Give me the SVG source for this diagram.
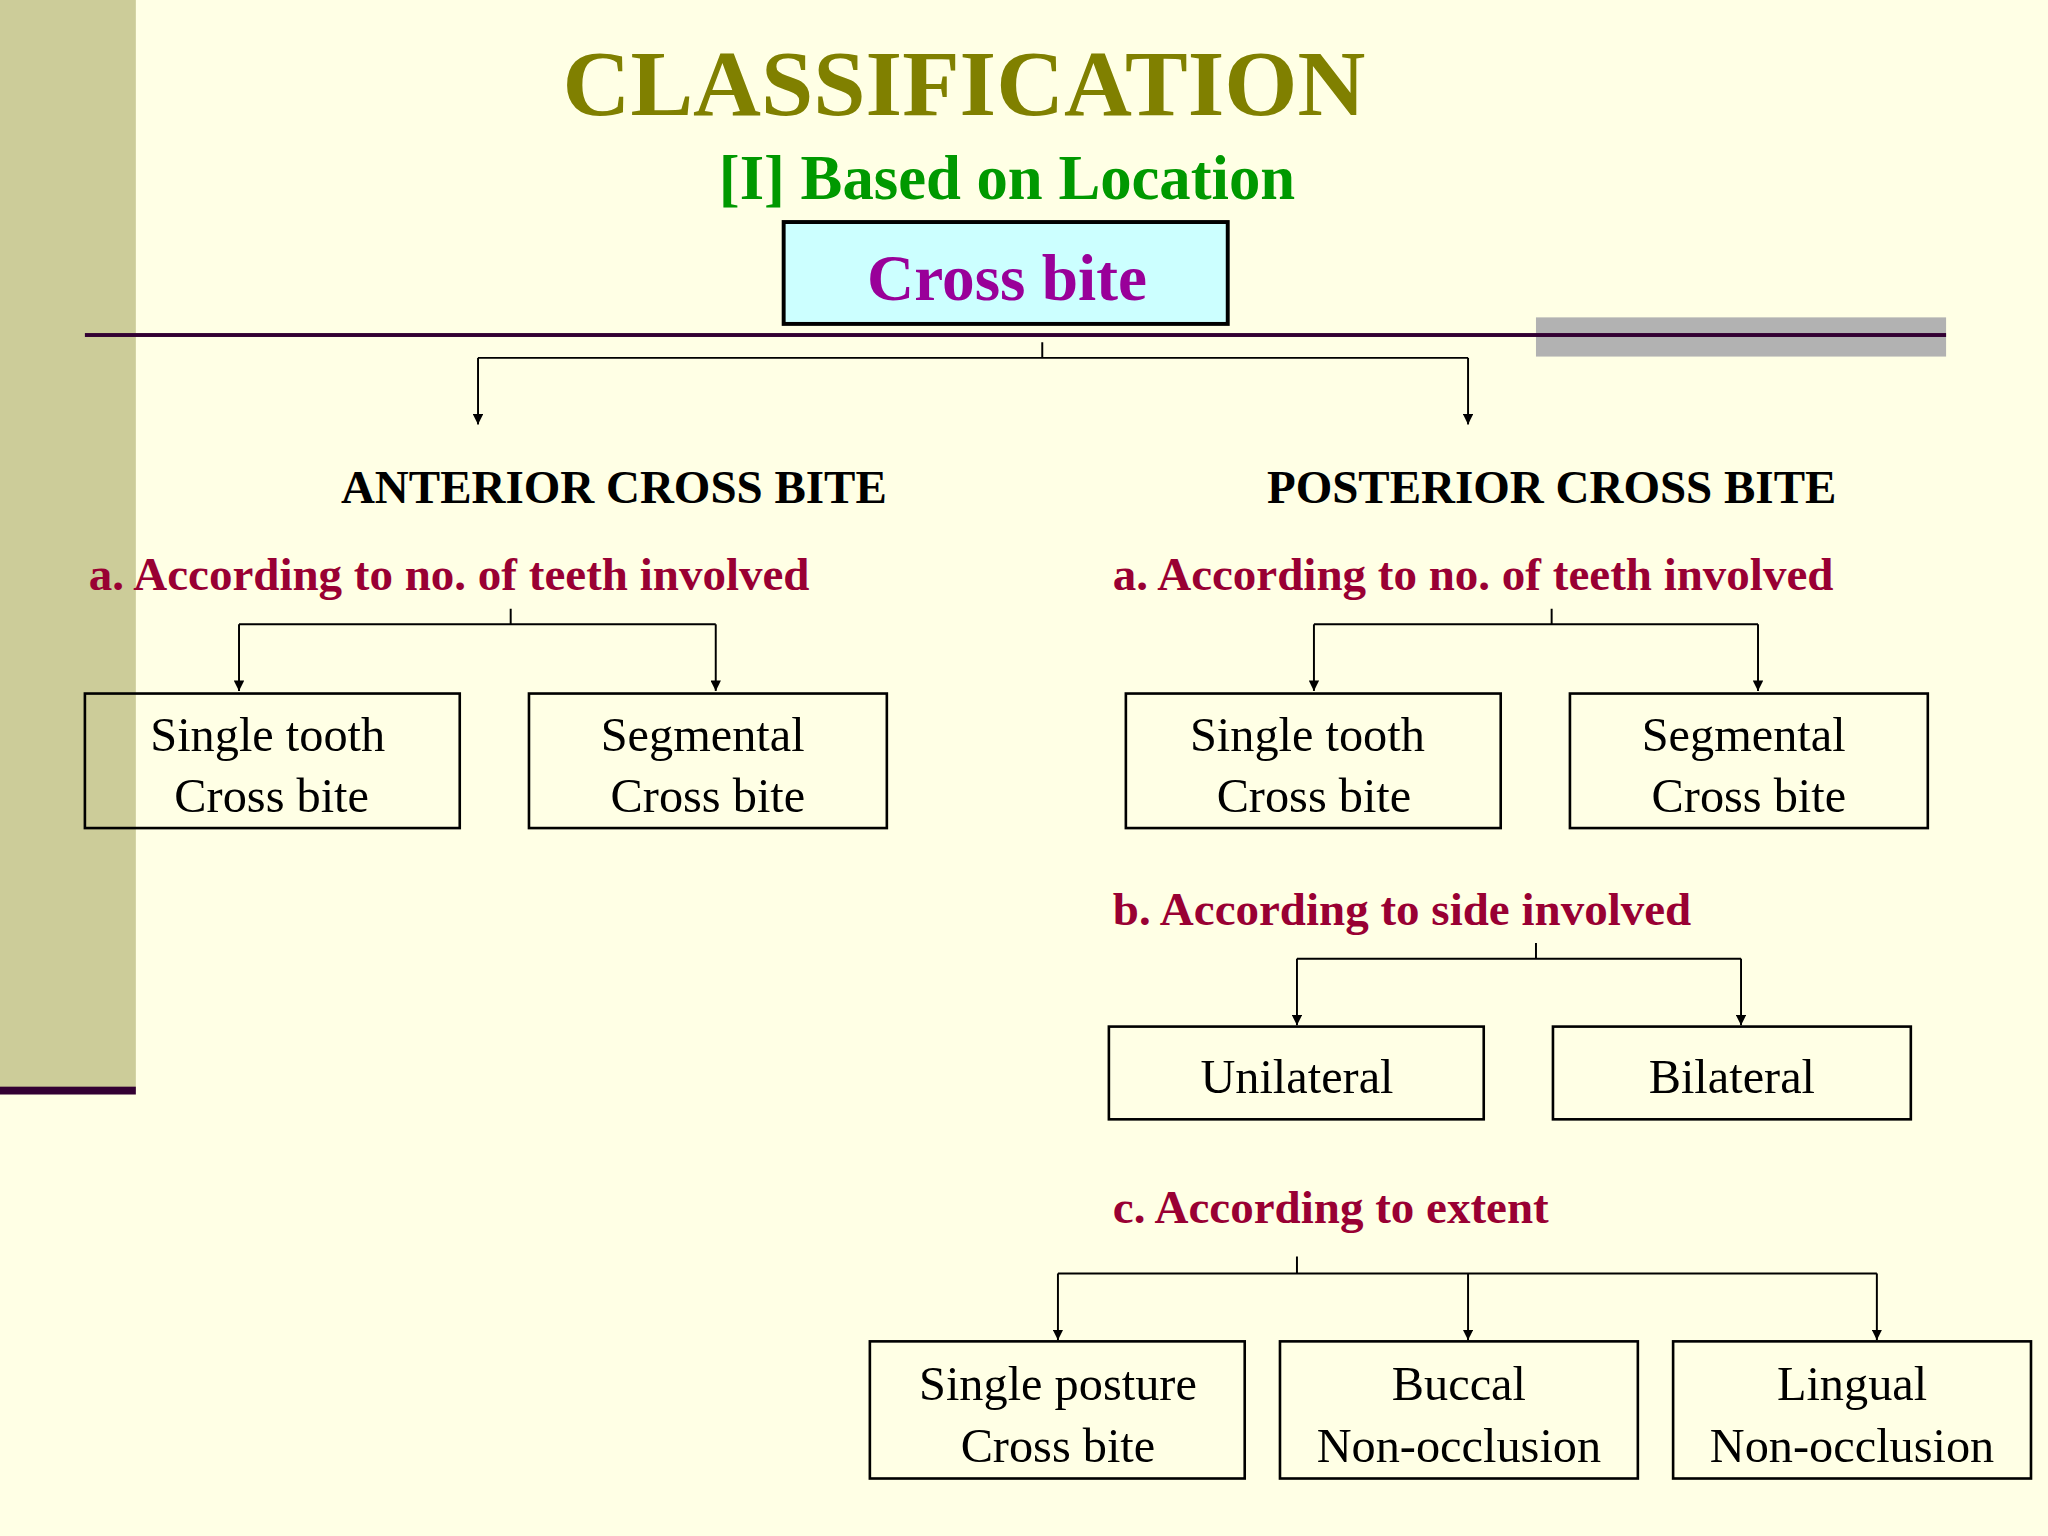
<svg xmlns="http://www.w3.org/2000/svg" width="2048" height="1536" viewBox="0 0 2048 1536">
<style>
.t{font-family:"Liberation Serif",serif}
.b{font-weight:bold}
.h{font-size:36px;font-weight:bold;fill:#000}
.s{font-size:36px;font-weight:bold;fill:#990033}
.n{font-size:37px;fill:#000;text-anchor:middle}
.box{fill:none;stroke:#000;stroke-width:2}
.c{fill:none;stroke:#000;stroke-width:1.5}
</style>
<defs><marker id="a" viewBox="0 0 10 10" refX="10" refY="5" markerWidth="8" markerHeight="8" markerUnits="userSpaceOnUse" orient="auto"><path d="M0,0L10,5L0,10z" fill="#000"/></marker></defs>
<rect width="2048" height="1536" fill="#FFFFE5"/>
<g transform="scale(1.3061)">
<rect x="0" y="0" width="104" height="835" fill="#CCCC99"/>
<rect x="0" y="832" width="104" height="6" fill="#330033"/>
<rect x="1176" y="243" width="314" height="30" fill="#B2B2B2"/>
<rect x="65" y="255" width="1425" height="3" fill="#330033"/>
<text class="t b" x="738" y="88" font-size="72" fill="#808000" text-anchor="middle">CLASSIFICATION</text>
<text class="t b" x="771" y="152" font-size="48" fill="#009900" text-anchor="middle">[I] Based on Location</text>
<g id="root"><rect x="600" y="170" width="340" height="78" fill="#CCFFFF" stroke="#000" stroke-width="3"/><text class="t b" x="771" y="230" font-size="50" fill="#990099" text-anchor="middle">Cross bite</text></g>
<g id="connectors">
<path class="c" d="M798,262V274M366,274H1124"/>
<path class="c" d="M366,274V325" marker-end="url(#a)"/><path class="c" d="M1124,274V325" marker-end="url(#a)"/>
<path class="c" d="M391,466V478M183,478H548"/><path class="c" d="M183,478V529" marker-end="url(#a)"/><path class="c" d="M548,478V529" marker-end="url(#a)"/>
<path class="c" d="M1188,466V478M1006,478H1346"/><path class="c" d="M1006,478V529" marker-end="url(#a)"/><path class="c" d="M1346,478V529" marker-end="url(#a)"/>
<path class="c" d="M1176,722V734M993,734H1333"/><path class="c" d="M993,734V785" marker-end="url(#a)"/><path class="c" d="M1333,734V785" marker-end="url(#a)"/>
<path class="c" d="M993,962V975M810,975H1437"/><path class="c" d="M810,975V1026" marker-end="url(#a)"/><path class="c" d="M1124,975V1026" marker-end="url(#a)"/><path class="c" d="M1437,975V1026" marker-end="url(#a)"/>
</g>
<g id="anterior"><text class="t h" x="470" y="385" text-anchor="middle">ANTERIOR CROSS BITE</text><text class="t s" x="68" y="452">a. According to no. of teeth involved</text></g>
<g id="posterior"><text class="t h" x="1188" y="385" text-anchor="middle">POSTERIOR CROSS BITE</text><text class="t s" x="852" y="452">a. According to no. of teeth involved</text><text class="t s" x="852" y="708">b. According to side involved</text><text class="t s" x="852" y="936">c. According to extent</text></g>
<g id="a1"><rect class="box" x="65" y="531" width="287" height="103"/><text class="t n" x="205" y="575">Single tooth</text><text class="t n" x="208" y="622">Cross bite</text></g>
<g id="a2"><rect class="box" x="405" y="531" width="274" height="103"/><text class="t n" x="538" y="575">Segmental</text><text class="t n" x="542" y="622">Cross bite</text></g>
<g id="p1"><rect class="box" x="862" y="531" width="287" height="103"/><text class="t n" x="1001" y="575">Single tooth</text><text class="t n" x="1006" y="622">Cross bite</text></g>
<g id="p2"><rect class="box" x="1202" y="531" width="274" height="103"/><text class="t n" x="1335" y="575">Segmental</text><text class="t n" x="1339" y="622">Cross bite</text></g>
<g id="uni"><rect class="box" x="849" y="786" width="287" height="71"/><text class="t n" x="993" y="837">Unilateral</text></g>
<g id="bi"><rect class="box" x="1189" y="786" width="274" height="71"/><text class="t n" x="1326" y="837">Bilateral</text></g>
<g id="e1"><rect class="box" x="666" y="1027" width="287" height="105"/><text class="t n" x="810" y="1072">Single posture</text><text class="t n" x="810" y="1119">Cross bite</text></g>
<g id="e2"><rect class="box" x="980" y="1027" width="274" height="105"/><text class="t n" x="1117" y="1072">Buccal</text><text class="t n" x="1117" y="1119">Non-occlusion</text></g>
<g id="e3"><rect class="box" x="1281" y="1027" width="274" height="105"/><text class="t n" x="1418" y="1072">Lingual</text><text class="t n" x="1418" y="1119">Non-occlusion</text></g>
</g>
</svg>
